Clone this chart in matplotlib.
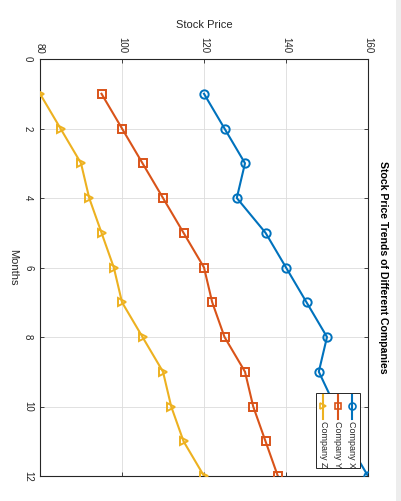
import numpy as np
import matplotlib
matplotlib.use('Agg')
import matplotlib.pyplot as plt
from matplotlib.lines import Line2D
from matplotlib.patches import Rectangle

plt.rcParams['font.family'] = ['Liberation Sans', 'DejaVu Sans']

months = [1, 2, 3, 4, 5, 6, 7, 8, 9, 10, 11, 12]
company_x = [120, 125, 130, 128, 135, 140, 145, 150, 148, 152, 155, 160]
company_y = [95, 100, 105, 110, 115, 120, 122, 125, 130, 132, 135, 138]
company_z = [80, 85, 90, 92, 95, 98, 100, 105, 110, 112, 115, 120]
names = ['Company X', 'Company Y', 'Company Z']
colors = ['#0072BD', '#D95319', '#EDB120']
# markers as they look after the chart is turned on its side
markers = ['o', 's', '>']

price_ticks = [80, 100, 120, 140, 160]
month_ticks = [0, 2, 4, 6, 8, 10, 12]

fig = plt.figure(figsize=(4.02, 5.01), dpi=100)
fig.patch.set_facecolor('white')
# light gray strip at the right border
fig.add_artist(Rectangle((396 / 402, 0), 6 / 402, 1, transform=fig.transFigure,
                         facecolor='#ededed', edgecolor='none'))

ax = fig.add_axes([40 / 402, 1 - 476 / 501, 328 / 402, 417 / 501])

series = [company_x, company_y, company_z]
for vals, c, m in zip(series, colors, markers):
    ax.plot(vals, months, color=c, lw=1.5, marker=m, ms=6,
            mfc='none', mec=c, mew=1.4, zorder=3)

ax.set_xlim(80, 160)
ax.set_ylim(12, 0)
ax.set_xticks(price_ticks)
ax.set_yticks(month_ticks)
ax.xaxis.tick_top()
ax.tick_params(axis='both', direction='in', length=3, width=0.6, colors='#262626',
               labelsize=7, top=True, bottom=True, left=True, right=True)
ax.tick_params(axis='x', labelrotation=-90, pad=4)
ax.tick_params(axis='y', labelrotation=-90, pad=5)
for lab in ax.get_yticklabels():
    lab.set_va('center')
ax.grid(True, color='#dcdcdc', lw=0.6)
ax.set_axisbelow(True)
for s in ax.spines.values():
    s.set_color('#262626')
    s.set_linewidth(0.8)

ax.set_xlabel('Stock Price', fontsize=8, color='#262626')
ax.xaxis.set_label_position('top')
ax.xaxis.set_label_coords(0.5, 1 + 31 / 417)
ax.set_ylabel('Months', fontsize=8, color='#262626', rotation=-90, va='center')
ax.yaxis.set_label_coords(-27 / 328, 0.5)

fig.text(383 / 402, 1 - 267 / 501, 'Stock Price Trends of Different Companies',
         rotation=-90, fontsize=7.6, fontweight='bold', ha='center', va='center')

# legend, drawn sideways to match the rotated layout
def ax_x(px):
    return (px - 40) / 328

def ax_y(py):
    return (476 - py) / 417

ax.add_patch(Rectangle((ax_x(316), ax_y(467.5)), ax_x(360.5) - ax_x(316),
                       ax_y(392.5) - ax_y(467.5), transform=ax.transAxes,
                       facecolor='white', edgecolor='#262626', lw=0.7, zorder=5))
for name, c, m, px in zip(names, colors, markers, [351.7, 337.7, 323.3]):
    ax.add_line(Line2D([ax_x(px), ax_x(px)], [ax_y(395), ax_y(419)],
                       transform=ax.transAxes, color=c, lw=1.5, zorder=6))
    ax.add_line(Line2D([ax_x(px)], [ax_y(406)], transform=ax.transAxes,
                       color=c, marker=m, ms=5, mfc='none', mec=c, mew=1.2, zorder=7))
    ax.text(ax_x(px), ax_y(421), name, transform=ax.transAxes, rotation=-90,
            ha='center', va='top', fontsize=6.5, color='#262626', zorder=8)

fig.savefig('out.png', dpi=100)
